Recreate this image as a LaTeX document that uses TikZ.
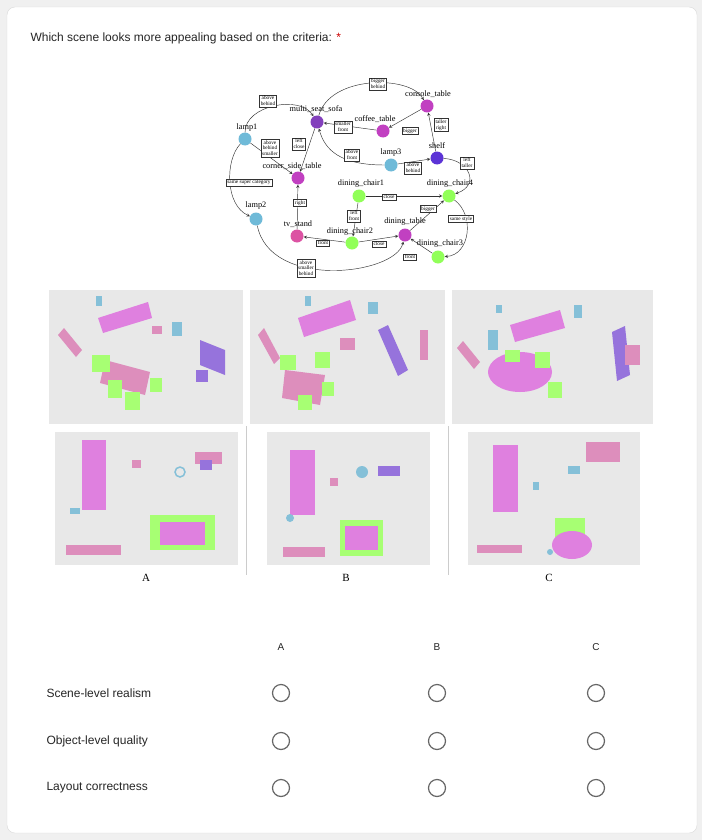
\documentclass[tikz,border=0pt]{standalone}
\usepackage{fontspec}
\setmainfont{Liberation Serif}
\newfontfamily\uisans{Liberation Sans}
\begin{document}
\begin{tikzpicture}[x=1pt,y=-1pt,
  lbl/.style={draw=black!80,fill=white,line width=0.5pt,font=\fontsize{5.3}{5.8}\selectfont,align=center,inner sep=1.3pt},
  nm/.style={font=\fontsize{8.3}{9}\selectfont},
  ob/.style={circle,minimum size=13pt,inner sep=0pt},
  ed/.style={->,>=stealth,line width=0.45pt,black!80},
  ui/.style={font=\uisans\fontsize{12}{14}\selectfont,text=black!85},
  radio/.style={circle,draw=black!60,line width=1.2pt,minimum size=17pt,inner sep=0pt},
  panel/.style={fill=black!9}]
\useasboundingbox (0,0) rectangle (702,840);
\fill[black!6] (0,0) rectangle (702,840);
\draw[black!15,fill=white,rounded corners=8pt] (7,7) rectangle (697,833);
\node[ui,anchor=west] (q) at (27,38) {Which scene looks more appealing based on the criteria: \textcolor{red!80!black}{*}};
\colorlet{cy}{cyan!55!teal!65!white}
\colorlet{pu}{violet!65!magenta!75}
\colorlet{gn}{green!55!lime!65!white}
\node[ob,fill=violet!70!blue!75] (sofa) at (317,122) {};
\node[ob,fill=cy] (lamp1) at (245,139) {};
\node[ob,fill=pu] (cons) at (427,106) {};
\node[ob,fill=pu] (coff) at (383,131) {};
\node[ob,fill=blue!60!violet!80] (shelf) at (437,158) {};
\node[ob,fill=cy] (lamp3) at (391,165) {};
\node[ob,fill=pu] (corner) at (298,178) {};
\node[ob,fill=gn] (dc1) at (359,196) {};
\node[ob,fill=gn] (dc4) at (449,196) {};
\node[ob,fill=cy] (lamp2) at (256,219) {};
\node[ob,fill=magenta!70!violet!75] (tv) at (297,236) {};
\node[ob,fill=gn] (dc2) at (352,243) {};
\node[ob,fill=pu] (dt) at (405,235) {};
\node[ob,fill=gn] (dc3) at (438,257) {};
\node[nm] (n1) at (316,109) {multi\_seat\_sofa};
\node[nm] (n2) at (247,128) {lamp1};
\node[nm] (n3) at (428,94) {console\_table};
\node[nm] (n4) at (375,119) {coffee\_table};
\node[nm] (n5) at (437,146) {shelf};
\node[nm] (n6) at (391,153) {lamp3};
\node[nm] (n7) at (292,166) {corner\_side\_table};
\node[nm] (n8) at (361,184) {dining\_chair1};
\node[nm] (n9) at (450,184) {dining\_chair4};
\node[nm] (n10) at (256,206) {lamp2};
\node[nm] (n11) at (298,224) {tv\_stand};
\node[nm] (n12) at (350,232) {dining\_chair2};
\node[nm] (n13) at (405,222) {dining\_table};
\node[nm] (n14) at (440,244) {dining\_chair3};
\draw[ed] (sofa) .. controls (330,75) and (410,75) .. (cons);
\draw[ed] (lamp1) .. controls (245,105) and (300,95) .. (sofa);
\draw[ed] (coff) -- (sofa);
\draw[ed] (cons) -- (coff);
\draw[ed] (shelf) -- (cons);
\draw[ed] (sofa) -- (corner);
\draw[ed] (lamp1) -- (corner);
\draw[ed] (lamp3) .. controls (340,165) and (325,150) .. (sofa);
\draw[ed] (lamp3) -- (shelf);
\draw[ed] (shelf) .. controls (470,160) and (480,185) .. (dc4);
\draw[ed] (lamp1) .. controls (225,160) and (225,205) .. (lamp2);
\draw[ed] (tv) -- (corner);
\draw[ed] (dc1) -- (dc4);
\draw[ed] (dc1) -- (dc2);
\draw[ed] (dt) -- (dc4);
\draw[ed] (dc4) .. controls (475,215) and (470,255) .. (dc3);
\draw[ed] (dc2) -- (tv);
\draw[ed] (dc2) -- (dt);
\draw[ed] (dc3) -- (dt);
\draw[ed] (lamp2) .. controls (270,290) and (395,275) .. (dt);
\node[lbl] (e1) at (378,84) {bigger\\behind};
\node[lbl] (e2) at (268,101) {above\\behind};
\node[lbl] (e3) at (343,127) {smaller\\front};
\node[lbl] (e4) at (410,131) {bigger};
\node[lbl] (e5) at (441,125) {taller\\right};
\node[lbl] (e6) at (299,144) {left\\close};
\node[lbl] (e7) at (270,148) {above\\behind\\smaller};
\node[lbl] (e8) at (352,155) {above\\front};
\node[lbl] (e9) at (413,168) {above\\behind};
\node[lbl] (e10) at (467,163) {left\\taller};
\node[lbl] (e11) at (249,183) {same super category};
\node[lbl] (e12) at (389,197) {close};
\node[lbl] (e13) at (428,209) {bigger};
\node[lbl] (e14) at (461,219) {same style};
\node[lbl] (e15) at (300,203) {right};
\node[lbl] (e16) at (354,216) {left\\front};
\node[lbl] (e17) at (323,243) {front};
\node[lbl] (e18) at (379,244) {close};
\node[lbl] (e19) at (410,257) {front};
\node[lbl] (e20) at (306,268) {above\\smaller\\behind};
\colorlet{sf}{violet!50!magenta!50}
\colorlet{pk}{magenta!50!violet!50}
\colorlet{gr}{green!50!lime!55}
\colorlet{bl}{blue!50!violet!55}
\colorlet{tl}{cyan!45!teal!55}
\fill[panel] (49,290) rectangle (243,424);
\fill[panel] (250,290) rectangle (445,424);
\fill[panel] (452,290) rectangle (653,424);
\fill[panel] (55,432) rectangle (238,565);
\fill[panel] (267,432) rectangle (430,565);
\fill[panel] (468,432) rectangle (640,565);
\fill[pk] (58,335) -- (64,328) -- (82,350) -- (76,357) -- cycle;
\fill[sf] (98,318) -- (148,302) -- (152,318) -- (103,333) -- cycle;
\fill[pk] (105,360) -- (150,372) -- (145,395) -- (100,383) -- cycle;
\fill[gr] (92,355) rectangle (110,372); \fill[gr] (125,392) rectangle (140,410); \fill[gr] (150,378) rectangle (162,392); \fill[gr] (108,380) rectangle (122,398);
\fill[bl] (200,340) -- (225,350) -- (225,375) -- (200,365) -- cycle;
\fill[bl] (196,370) rectangle (208,382); \fill[tl] (172,322) rectangle (182,336); \fill[tl] (96,296) rectangle (102,306);
\fill[pk] (152,326) rectangle (162,334);
\fill[pk] (258,335) -- (264,328) -- (280,358) -- (274,364) -- cycle;
\fill[sf] (298,318) -- (350,300) -- (356,320) -- (304,337) -- cycle;
\fill[pk] (285,370) -- (325,375) -- (320,405) -- (282,398) -- cycle;
\fill[gr] (280,355) rectangle (296,370); \fill[gr] (315,352) rectangle (330,368); \fill[gr] (298,395) rectangle (312,410); \fill[gr] (322,382) rectangle (334,396);
\fill[bl] (378,330) -- (388,325) -- (408,370) -- (398,376) -- cycle;
\fill[pk] (340,338) rectangle (355,350); \fill[pk] (420,330) rectangle (428,360); \fill[tl] (368,302) rectangle (378,314); \fill[tl] (305,296) rectangle (311,306);
\fill[pk] (457,348) -- (463,341) -- (480,362) -- (474,369) -- cycle;
\fill[sf] (510,325) -- (560,310) -- (565,328) -- (515,342) -- cycle;
\fill[sf] (520,372) ellipse (32pt and 20pt);
\fill[gr] (535,352) rectangle (550,368); \fill[gr] (548,382) rectangle (562,398); \fill[gr] (505,350) rectangle (520,362);
\fill[bl] (612,332) -- (625,326) -- (630,375) -- (617,381) -- cycle;
\fill[pk] (625,345) rectangle (640,365); \fill[tl] (488,330) rectangle (498,350); \fill[tl] (574,305) rectangle (582,318); \fill[tl] (496,305) rectangle (502,313);
\fill[sf] (82,440) rectangle (106,510);
\fill[pk] (66,545) rectangle (121,555);
\fill[gr] (150,515) rectangle (215,550); \fill[sf] (160,522) rectangle (205,545);
\fill[pk] (195,452) rectangle (222,464); \fill[bl] (200,460) rectangle (212,470);
\fill[pk] (132,460) rectangle (141,468); \draw[tl,line width=1.5pt] (180,472) circle (5pt);
\fill[tl] (70,508) rectangle (80,514);
\fill[sf] (290,450) rectangle (315,515);
\fill[pk] (283,547) rectangle (325,557);
\fill[gr] (340,520) rectangle (383,556); \fill[sf] (345,526) rectangle (378,550);
\fill[bl] (378,466) rectangle (400,476); \fill[pk] (330,478) rectangle (338,486);
\fill[tl] (362,472) circle (6pt); \fill[tl] (290,518) circle (4pt);
\fill[sf] (493,445) rectangle (518,512);
\fill[pk] (477,545) rectangle (522,553);
\fill[gr] (555,518) rectangle (585,540); \fill[sf] (572,545) ellipse (20pt and 14pt);
\fill[pk] (586,442) rectangle (620,462); \fill[tl] (568,466) rectangle (580,474); \fill[tl] (533,482) rectangle (539,490);
\fill[tl] (550,552) circle (3pt);
\draw[black!20] (246,426) -- (246,575);
\draw[black!20] (448,426) -- (448,575);
\node[font=\fontsize{11}{12}\selectfont] (la) at (146,578) {A};
\node[font=\fontsize{11}{12}\selectfont] (lb) at (346,578) {B};
\node[font=\fontsize{11}{12}\selectfont] (lc) at (549,578) {C};
\node[ui,font=\uisans\fontsize{10}{12}\selectfont] (ha) at (281,647) {A};
\node[ui,font=\uisans\fontsize{10}{12}\selectfont] (hb) at (437,647) {B};
\node[ui,font=\uisans\fontsize{10}{12}\selectfont] (hc) at (596,647) {C};
\node[ui,anchor=west] (r1) at (43,693) {Scene-level realism};
\node[ui,anchor=west] (r2) at (43,741) {Object-level quality};
\node[ui,anchor=west] (r3) at (43,788) {Layout correctness};
\foreach \y/\i in {693/1,741/2,788/3}{
  \node[radio] (ra\i) at (281,\y) {};
  \node[radio] (rb\i) at (437,\y) {};
  \node[radio] (rc\i) at (596,\y) {};
}
\end{tikzpicture}
\end{document}
